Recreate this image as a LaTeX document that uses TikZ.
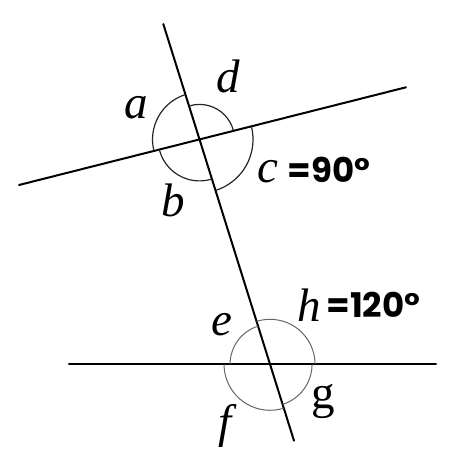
\documentclass[tikz,border=0pt]{standalone}
\usepackage{fontspec}
\setmainfont{Liberation Serif}
\newfontfamily\degfont{Poppins}
\tikzset{
  mainline/.style={line width=2pt, black, line cap=round},
  arcup/.style={line width=1.2pt, black!85},
  arclow/.style={line width=1pt, black!60},
  letter/.style={inner sep=0pt, font=\fontsize{47}{47}\selectfont\itshape},
  uletter/.style={inner sep=0pt, font=\fontsize{47}{47}\selectfont},
  measure/.style={inner sep=0pt, font=\fontsize{34}{34}\selectfont\degfont\bfseries}
}
\begin{document}
\begin{tikzpicture}[x=1pt,y=1pt]
\useasboundingbox (0,0) rectangle (450,466);
% line end points
\coordinate (T1) at (163.3,442);
\coordinate (T2) at (294,25.3);
\coordinate (L1) at (19,281);
\coordinate (L2) at (406,378.7);
\coordinate (H1) at (69,101.7);
\coordinate (H2) at (436,101.7);
\coordinate (P) at (intersection of T1--T2 and L1--L2);
\coordinate (Q) at (intersection of T1--T2 and H1--H2);
% lines
\draw[mainline] (L1) -- (L2);
\draw[mainline] (H1) -- (H2);
\draw[mainline] (T1) -- (T2);
% upper angle arcs
\draw[arcup] (P) ++(107.4:47) arc[start angle=107.4, end angle=194.17, radius=47];
\draw[arcup] (P) ++(14.17:35) arc[start angle=14.17, end angle=107.4, radius=35];
\draw[arcup] (P) ++(194.17:41.5) arc[start angle=194.17, end angle=287.4, radius=41.5];
\draw[arcup] (P) ++(287.4:53.5) arc[start angle=287.4, end angle=374.17, radius=53.5];
% lower angle arcs
\draw[arclow] (Q) ++(107.4:40) arc[start angle=107.4, end angle=180, radius=40];
\draw[arclow] (Q) ++(0:45) arc[start angle=0, end angle=107.4, radius=45];
\draw[arclow] (Q) ++(180:46) arc[start angle=180, end angle=287.4, radius=46];
\draw[arclow] (Q) ++(287.4:42) arc[start angle=287.4, end angle=360, radius=42];
% labels
\node[letter] (la) at (136.3,358.5) {a};
\node[letter] (ld) at (228,390) {d};
\node[letter] (lb) at (173,265.3) {b};
\node[letter] (lc) at (268,294) {c};
\node[measure] (m90) at (329,296) {=90°};
\node[letter] (le) at (221.5,141) {e};
\node[letter] (lh) at (309.5,161) {h};
\node[measure] (m120) at (373.3,161) {=120°};
\node[uletter] (lg) at (323,64) {g};
\node[letter] (lf) at (225,40) {f};
\end{tikzpicture}
\end{document}
